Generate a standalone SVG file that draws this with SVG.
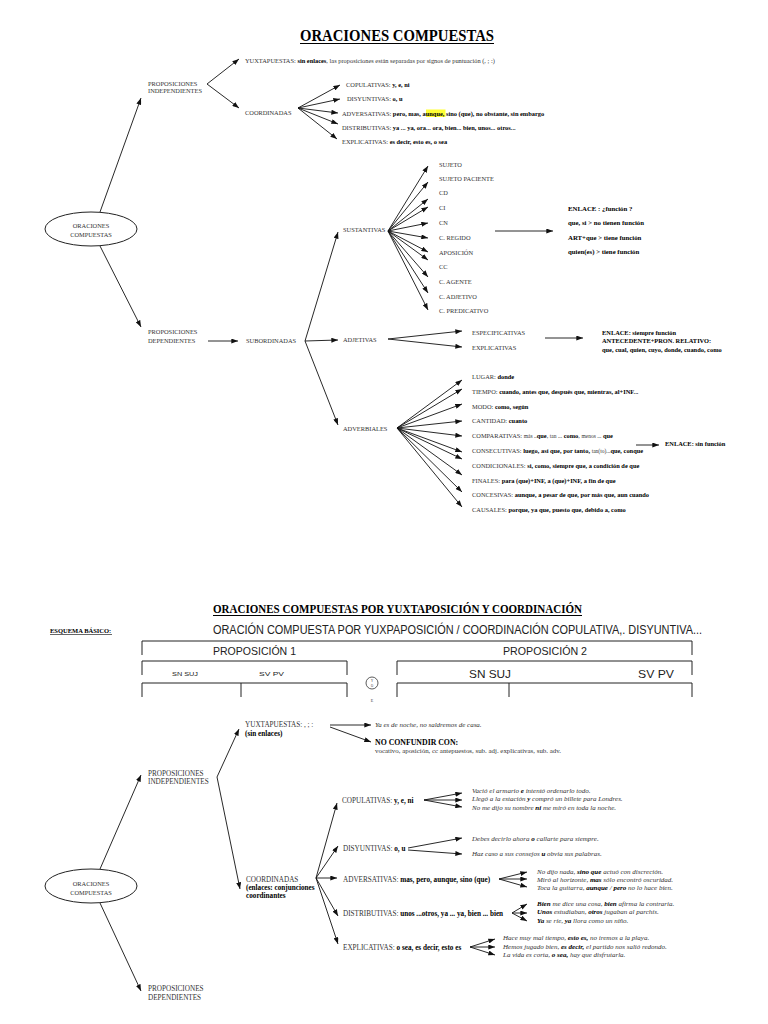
<svg xmlns="http://www.w3.org/2000/svg" width="768" height="1024" viewBox="0 0 768 1024">
<style>
text{font-family:"Liberation Serif","Times New Roman",serif;fill:#333}
.s{font-size:6.4px}
.k{font-size:6.8px}
.m{font-size:7.2px}
.e{font-size:7px;font-style:italic}
.b{font-weight:bold;fill:#000}
.bi{font-weight:bold;font-style:italic;fill:#000}
.n{font-family:"Liberation Sans",Arial,sans-serif;fill:#222}
.c line{stroke:#111;stroke-width:0.9;fill:none}
.ar{marker-end:url(#a)}
.br{stroke:#222;stroke-width:1;fill:none}
ellipse{fill:#fff;stroke:#222;stroke-width:1}
</style>
<defs>
<marker id="a" viewBox="0 0 8 6" refX="8" refY="3" markerWidth="7" markerHeight="5" orient="auto" markerUnits="userSpaceOnUse"><path d="M0,0 L8,3 L0,6 z" fill="#111"/></marker>
</defs>
<rect width="768" height="1024" fill="#fff"/>

<!-- ===== TOP SECTION ===== -->
<g id="title1">
<text x="300" y="41" class="b" font-size="17.5" textLength="194" lengthAdjust="spacingAndGlyphs">ORACIONES COMPUESTAS</text>
<line x1="300" y1="43.5" x2="494" y2="43.5" stroke="#000" stroke-width="1.2"/>
</g>

<g class="c" id="connectors-top">
<line class="ar" x1="100" y1="212" x2="141" y2="98"/>
<line class="ar" x1="100" y1="246" x2="141" y2="327"/>
<line class="ar" x1="207" y1="84" x2="239" y2="59"/>
<line class="ar" x1="207" y1="84" x2="239" y2="108"/>
<line class="ar" x1="298" y1="108" x2="340" y2="85"/>
<line class="ar" x1="298" y1="108" x2="340" y2="99"/>
<line class="ar" x1="298" y1="108" x2="338" y2="113"/>
<line class="ar" x1="298" y1="108" x2="338" y2="124"/>
<line class="ar" x1="298" y1="108" x2="337" y2="139"/>
<line class="ar" x1="208" y1="341" x2="238" y2="341"/>
<line class="ar" x1="305" y1="341" x2="338" y2="232"/>
<line class="ar" x1="305" y1="341" x2="338" y2="340"/>
<line class="ar" x1="305" y1="341" x2="338" y2="425"/>
<line class="ar" x1="388" y1="231" x2="428" y2="166"/>
<line class="ar" x1="388" y1="231" x2="428" y2="182"/>
<line class="ar" x1="388" y1="231" x2="428" y2="199"/>
<line class="ar" x1="388" y1="231" x2="428" y2="207"/>
<line class="ar" x1="388" y1="231" x2="428" y2="223"/>
<line class="ar" x1="388" y1="231" x2="428" y2="238"/>
<line class="ar" x1="388" y1="231" x2="428" y2="252"/>
<line class="ar" x1="388" y1="231" x2="428" y2="260"/>
<line class="ar" x1="388" y1="231" x2="428" y2="277"/>
<line class="ar" x1="388" y1="231" x2="428" y2="293"/>
<line class="ar" x1="388" y1="231" x2="428" y2="310"/>
<line class="ar" x1="495" y1="231" x2="553" y2="231"/>
<line class="ar" x1="388" y1="339" x2="462" y2="331"/>
<line class="ar" x1="388" y1="339" x2="462" y2="347"/>
<line class="ar" x1="545" y1="338" x2="583" y2="338"/>
<line class="ar" x1="397" y1="428" x2="462" y2="380"/>
<line class="ar" x1="397" y1="428" x2="462" y2="389"/>
<line class="ar" x1="397" y1="428" x2="462" y2="404"/>
<line class="ar" x1="397" y1="428" x2="462" y2="421"/>
<line class="ar" x1="397" y1="428" x2="462" y2="436"/>
<line class="ar" x1="397" y1="428" x2="462" y2="452"/>
<line class="ar" x1="397" y1="428" x2="462" y2="459"/>
<line class="ar" x1="397" y1="428" x2="462" y2="475"/>
<line class="ar" x1="397" y1="428" x2="462" y2="492"/>
<line class="ar" x1="397" y1="428" x2="462" y2="507"/>
<line class="ar" x1="636" y1="445" x2="659" y2="445"/>
</g>

<g id="root-top">
<ellipse cx="91" cy="229" rx="46" ry="17"/>
<text class="s" x="91" y="228" text-anchor="middle">ORACIONES</text>
<text class="s" x="91" y="236.5" text-anchor="middle">COMPUESTAS</text>
</g>
<g id="indep-top">
<text class="s" x="148" y="85.5">PROPOSICIONES</text>
<text class="s" x="148" y="93">INDEPENDIENTES</text>
</g>
<g id="yuxt-top"><text class="s" x="245" y="62.5">YUXTAPUESTAS: <tspan class="b">sin enlaces</tspan>, las proposiciones están separadas por signos de puntuación (, ; :)</text></g>
<g id="coord-top"><text class="s" x="245" y="114.5">COORDINADAS</text></g>
<g id="copul-top"><text class="s" x="346" y="86.5">COPULATIVAS:  <tspan class="b">y, e, ni</tspan></text></g>
<g id="disy-top"><text class="s" x="347" y="101">DISYUNTIVAS: <tspan class="b">o, u</tspan></text></g>
<g id="adver-top">
<rect x="426" y="109.5" width="19.5" height="7.5" fill="#ffff33"/>
<text class="s" x="342" y="115.5">ADVERSATIVAS: <tspan class="b">pero, mas, aunque, sino (que), no obstante, sin embargo</tspan></text>
</g>
<g id="distr-top"><text class="s" x="342" y="130">DISTRIBUTIVAS: <tspan class="b">ya ... ya, ora... ora, bien... bien, unos... otros...</tspan></text></g>
<g id="expl-top"><text class="s" x="342" y="144">EXPLICATIVAS: <tspan class="b">es decir, esto es, o sea</tspan></text></g>

<g id="dep-top">
<text class="s" x="148" y="334">PROPOSICIONES</text>
<text class="s" x="148" y="342.5">DEPENDIENTES</text>
</g>
<g id="subord"><text class="s" x="246" y="343">SUBORDINADAS</text></g>
<g id="sust"><text class="s" x="343" y="231.5">SUSTANTIVAS</text></g>
<g id="adj"><text class="s" x="343" y="342">ADJETIVAS</text></g>
<g id="adv"><text class="s" x="343" y="430.5">ADVERBIALES</text></g>

<g id="sust-items">
<text class="s" x="439" y="166.5">SUJETO</text>
<text class="s" x="439" y="180.5">SUJETO PACIENTE</text>
<text class="s" x="439" y="195">CD</text>
<text class="s" x="439" y="209.5">CI</text>
<text class="s" x="439" y="224.5">CN</text>
<text class="s" x="439" y="239.5">C. REGIDO</text>
<text class="s" x="439" y="254.5">APOSICIÓN</text>
<text class="s" x="439" y="269">CC</text>
<text class="s" x="439" y="283.5">C. AGENTE</text>
<text class="s" x="439" y="298.5">C. ADJETIVO</text>
<text class="s" x="439" y="312.5">C. PREDICATIVO</text>
</g>
<g id="enlace-sust">
<text class="k b" x="568" y="210.5">ENLACE : ¿función ?</text>
<text class="k b" x="568" y="224.5">que,  si  &gt;  no tienen función</text>
<text class="k b" x="568" y="239.5">ART+que  &gt;  tiene función</text>
<text class="k b" x="568" y="254">quien(es)   &gt;  tiene función</text>
</g>
<g id="adj-items">
<text class="s" x="472" y="335">ESPECIFICATIVAS</text>
<text class="s" x="472" y="349.5">EXPLICATIVAS</text>
</g>
<g id="enlace-adj">
<text class="s b" x="602" y="334.5">ENLACE: siempre función</text>
<text class="s b" x="602" y="343">ANTECEDENTE+PRON. RELATIVO:</text>
<text class="s b" x="602" y="352">que, cual, quien, cuyo, donde, cuando, como</text>
</g>
<g id="adv-items">
<text class="s" x="472" y="378.5">LUGAR: <tspan class="b">donde</tspan></text>
<text class="s" x="472" y="394">TIEMPO: <tspan class="b">cuando, antes que, después que, mientras, al+INF...</tspan></text>
<text class="s" x="472" y="409">MODO: <tspan class="b">como, según</tspan></text>
<text class="s" x="472" y="423">CANTIDAD: <tspan class="b">cuanto</tspan></text>
<text class="s" x="472" y="438">COMPARATIVAS: <tspan font-size="5.5">más ..</tspan><tspan class="b">que</tspan>, <tspan font-size="5.5">tan ...</tspan> <tspan class="b">como</tspan>, <tspan font-size="5.5">menos ...</tspan> <tspan class="b">que</tspan></text>
<text class="s" x="472" y="453">CONSECUTIVAS: <tspan class="b">luego, así que, por tanto, </tspan><tspan font-size="5.5">tan(to)...</tspan><tspan class="b">que, conque</tspan></text>
<text class="s" x="472" y="468">CONDICIONALES: <tspan class="b">si, como, siempre que, a condición de que</tspan></text>
<text class="s" x="472" y="482.5">FINALES: <tspan class="b">para (que)+INF, a (que)+INF, a fin de que</tspan></text>
<text class="s" x="472" y="497">CONCESIVAS: <tspan class="b">aunque, a pesar de que, por más que, aun cuando</tspan></text>
<text class="s" x="472" y="512">CAUSALES: <tspan class="b">porque, ya que, puesto que, debido a, como</tspan></text>
</g>
<g id="enlace-adv"><text class="s b" x="665" y="445.5">ENLACE: sin función</text></g>

<!-- ===== BOTTOM SECTION ===== -->
<g id="title2">
<text x="213" y="613" class="b" font-size="11.5" textLength="369" lengthAdjust="spacingAndGlyphs">ORACIONES COMPUESTAS POR YUXTAPOSICIÓN Y COORDINACIÓN</text>
<line x1="213" y1="615.5" x2="582" y2="615.5" stroke="#000" stroke-width="1"/>
</g>
<g id="esquema">
<text x="50" y="633" class="b" font-size="6.5">ESQUEMA BÁSICO:</text>
<line x1="50" y1="634.5" x2="112" y2="634.5" stroke="#000" stroke-width="0.6"/>
<text x="213" y="634" class="n" font-size="12" textLength="489" lengthAdjust="spacingAndGlyphs">ORACIÓN COMPUESTA POR YUXPAPOSICIÓN  /  COORDINACIÓN COPULATIVA,. DISYUNTIVA...</text>
<path class="br" d="M142,655 V641 H692 V655"/>
<text x="213" y="655" class="n" font-size="10.5" textLength="83" lengthAdjust="spacingAndGlyphs">PROPOSICIÓN  1</text>
<text x="503" y="655" class="n" font-size="10.5" textLength="84" lengthAdjust="spacingAndGlyphs">PROPOSICIÓN  2</text>
<path class="br" d="M142,675 V661 H347 V675"/>
<path class="br" d="M397,675 V661 H692 V675"/>
<text x="172" y="676" class="n" font-size="6" textLength="26" lengthAdjust="spacingAndGlyphs">SN  SUJ</text>
<text x="259" y="676" class="n" font-size="6" textLength="25" lengthAdjust="spacingAndGlyphs">SV  PV</text>
<text x="469" y="678" class="n" font-size="10.5" textLength="42" lengthAdjust="spacingAndGlyphs">SN  SUJ</text>
<text x="638" y="678" class="n" font-size="10.5" textLength="36" lengthAdjust="spacingAndGlyphs">SV  PV</text>
<path class="br" d="M142,697 V683 H347 V697 M241,683 V697"/>
<path class="br" d="M397,697 V683 H692 V697 M509,683 V697"/>
<circle cx="372" cy="683" r="6" fill="#fff" stroke="#333" stroke-width="0.8"/>
<text x="372" y="682" font-size="3" text-anchor="middle">Y</text>
<text x="372" y="686.5" font-size="3" text-anchor="middle">O</text>
<text x="372" y="702" font-size="4" text-anchor="middle">E</text>
</g>

<g class="c" id="connectors-bottom">
<line class="ar" x1="100" y1="869" x2="141" y2="775"/>
<line class="ar" x1="100" y1="903" x2="141" y2="991"/>
<line class="ar" x1="217" y1="777" x2="239" y2="729"/>
<line class="ar" x1="217" y1="777" x2="240" y2="889"/>
<line class="ar" x1="330" y1="725" x2="371" y2="725"/>
<line class="ar" x1="330" y1="727" x2="371" y2="742"/>
<line class="ar" x1="316" y1="878" x2="337" y2="803"/>
<line class="ar" x1="316" y1="878" x2="338" y2="846"/>
<line class="ar" x1="316" y1="878" x2="337" y2="878"/>
<line class="ar" x1="316" y1="878" x2="338" y2="916"/>
<line class="ar" x1="316" y1="878" x2="338" y2="944"/>
<line class="ar" x1="424" y1="800" x2="462" y2="793"/>
<line class="ar" x1="424" y1="800" x2="462" y2="800"/>
<line class="ar" x1="424" y1="800" x2="462" y2="807"/>
<line class="ar" x1="408" y1="848" x2="462" y2="838"/>
<line class="ar" x1="408" y1="850" x2="462" y2="854"/>
<line class="ar" x1="499" y1="879" x2="527" y2="872"/>
<line class="ar" x1="499" y1="879" x2="527" y2="879"/>
<line class="ar" x1="499" y1="879" x2="527" y2="887"/>
<line class="ar" x1="512" y1="913" x2="527" y2="904"/>
<line class="ar" x1="512" y1="913" x2="527" y2="913"/>
<line class="ar" x1="512" y1="913" x2="527" y2="921"/>
<line class="ar" x1="470" y1="947" x2="495" y2="939"/>
<line class="ar" x1="470" y1="947" x2="495" y2="947"/>
<line class="ar" x1="470" y1="947" x2="495" y2="955"/>
</g>

<g id="root-bottom">
<ellipse cx="91" cy="886" rx="46" ry="17"/>
<text class="s" x="91" y="886" text-anchor="middle">ORACIONES</text>
<text class="s" x="91" y="894.5" text-anchor="middle">COMPUESTAS</text>
</g>
<g id="indep-bottom">
<text class="m" x="148" y="776">PROPOSICIONES</text>
<text class="m" x="148" y="784">INDEPENDIENTES</text>
</g>
<g id="dep-bottom">
<text class="m" x="148" y="991">PROPOSICIONES</text>
<text class="m" x="148" y="999.5">DEPENDIENTES</text>
</g>
<g id="yuxt-bottom">
<text class="m" x="245" y="727">YUXTAPUESTAS: , ; :</text>
<text class="m b" x="245" y="735.5">(sin enlaces)</text>
</g>
<g id="yuxt-ex">
<text class="e" x="375" y="727" font-size="7.6">Ya es de noche, no saldremos de casa.</text>
<text class="b" x="375" y="745" font-size="7.8">NO CONFUNDIR CON:</text>
<text x="375" y="752.5" font-size="6.9">vocativo, aposición, cc antepuestos, sub. adj. explicativas, sub. adv.</text>
</g>
<g id="coord-bottom">
<text class="m" x="246" y="881.5">COORDINADAS</text>
<text class="m b" x="246" y="889.5">(enlaces: conjunciones</text>
<text class="m b" x="246" y="897.5">coordinantes</text>
</g>
<g id="copul-bottom"><text class="m" x="342" y="802.5">COPULATIVAS:  <tspan class="b">y, e, ni</tspan></text></g>
<g id="disy-bottom"><text class="m" x="343" y="851">DISYUNTIVAS:  <tspan class="b">o, u</tspan></text></g>
<g id="adver-bottom"><text class="m" x="343" y="881.5">ADVERSATIVAS:  <tspan class="b">mas, pero, aunque, sino (que)</tspan></text></g>
<g id="distr-bottom"><text class="m" x="343" y="915.5">DISTRIBUTIVAS:  <tspan class="b">unos ...otros, ya ... ya, bien ... bien</tspan></text></g>
<g id="expl-bottom"><text class="m" x="343" y="949.5">EXPLICATIVAS:  <tspan class="b">o sea, es decir, esto es</tspan></text></g>

<g id="copul-ex">
<text class="e" x="472" y="792.5">Vació el armario <tspan class="bi">e</tspan> intentó ordenarlo todo.</text>
<text class="e" x="472" y="801">Llegó a la estación <tspan class="bi">y</tspan> compró un billete para Londres.</text>
<text class="e" x="472" y="809.5">No me dijo su nombre <tspan class="bi">ni</tspan> me miró en toda la noche.</text>
</g>
<g id="disy-ex">
<text class="e" x="472" y="840.5">Debes decirlo ahora <tspan class="bi">o</tspan> callarte para siempre.</text>
<text class="e" x="472" y="855.5">Haz caso a sus consejos <tspan class="bi">u</tspan> obvia sus palabras.</text>
</g>
<g id="adver-ex">
<text class="e" x="537" y="873.5">No dijo nada, <tspan class="bi">sino que</tspan> actuó con discreción.</text>
<text class="e" x="537" y="881.5">Miró al horizonte, <tspan class="bi">mas</tspan> sólo encontró oscuridad.</text>
<text class="e" x="537" y="889.5">Toca la guitarra, <tspan class="bi">aunque</tspan> / <tspan class="bi">pero</tspan> no lo hace bien.</text>
</g>
<g id="distr-ex">
<text class="e" x="537" y="905.5"><tspan class="bi">Bien</tspan> me dice una cosa, <tspan class="bi">bien</tspan> afirma la contraria.</text>
<text class="e" x="537" y="914"><tspan class="bi">Unos</tspan> estudiaban, <tspan class="bi">otros</tspan> jugaban al parchís.</text>
<text class="e" x="537" y="923"><tspan class="bi">Ya</tspan> se ríe, <tspan class="bi">ya</tspan> llora como un niño.</text>
</g>
<g id="expl-ex">
<text class="e" x="503" y="940">Hace muy mal tiempo, <tspan class="bi">esto es,</tspan> no iremos a la playa.</text>
<text class="e" x="503" y="948.5">Hemos jugado bien, <tspan class="bi">es decir,</tspan> el partido nos salió redondo.</text>
<text class="e" x="503" y="957">La vida es corta, <tspan class="bi">o sea,</tspan> hay que disfrutarla.</text>
</g>
</svg>
